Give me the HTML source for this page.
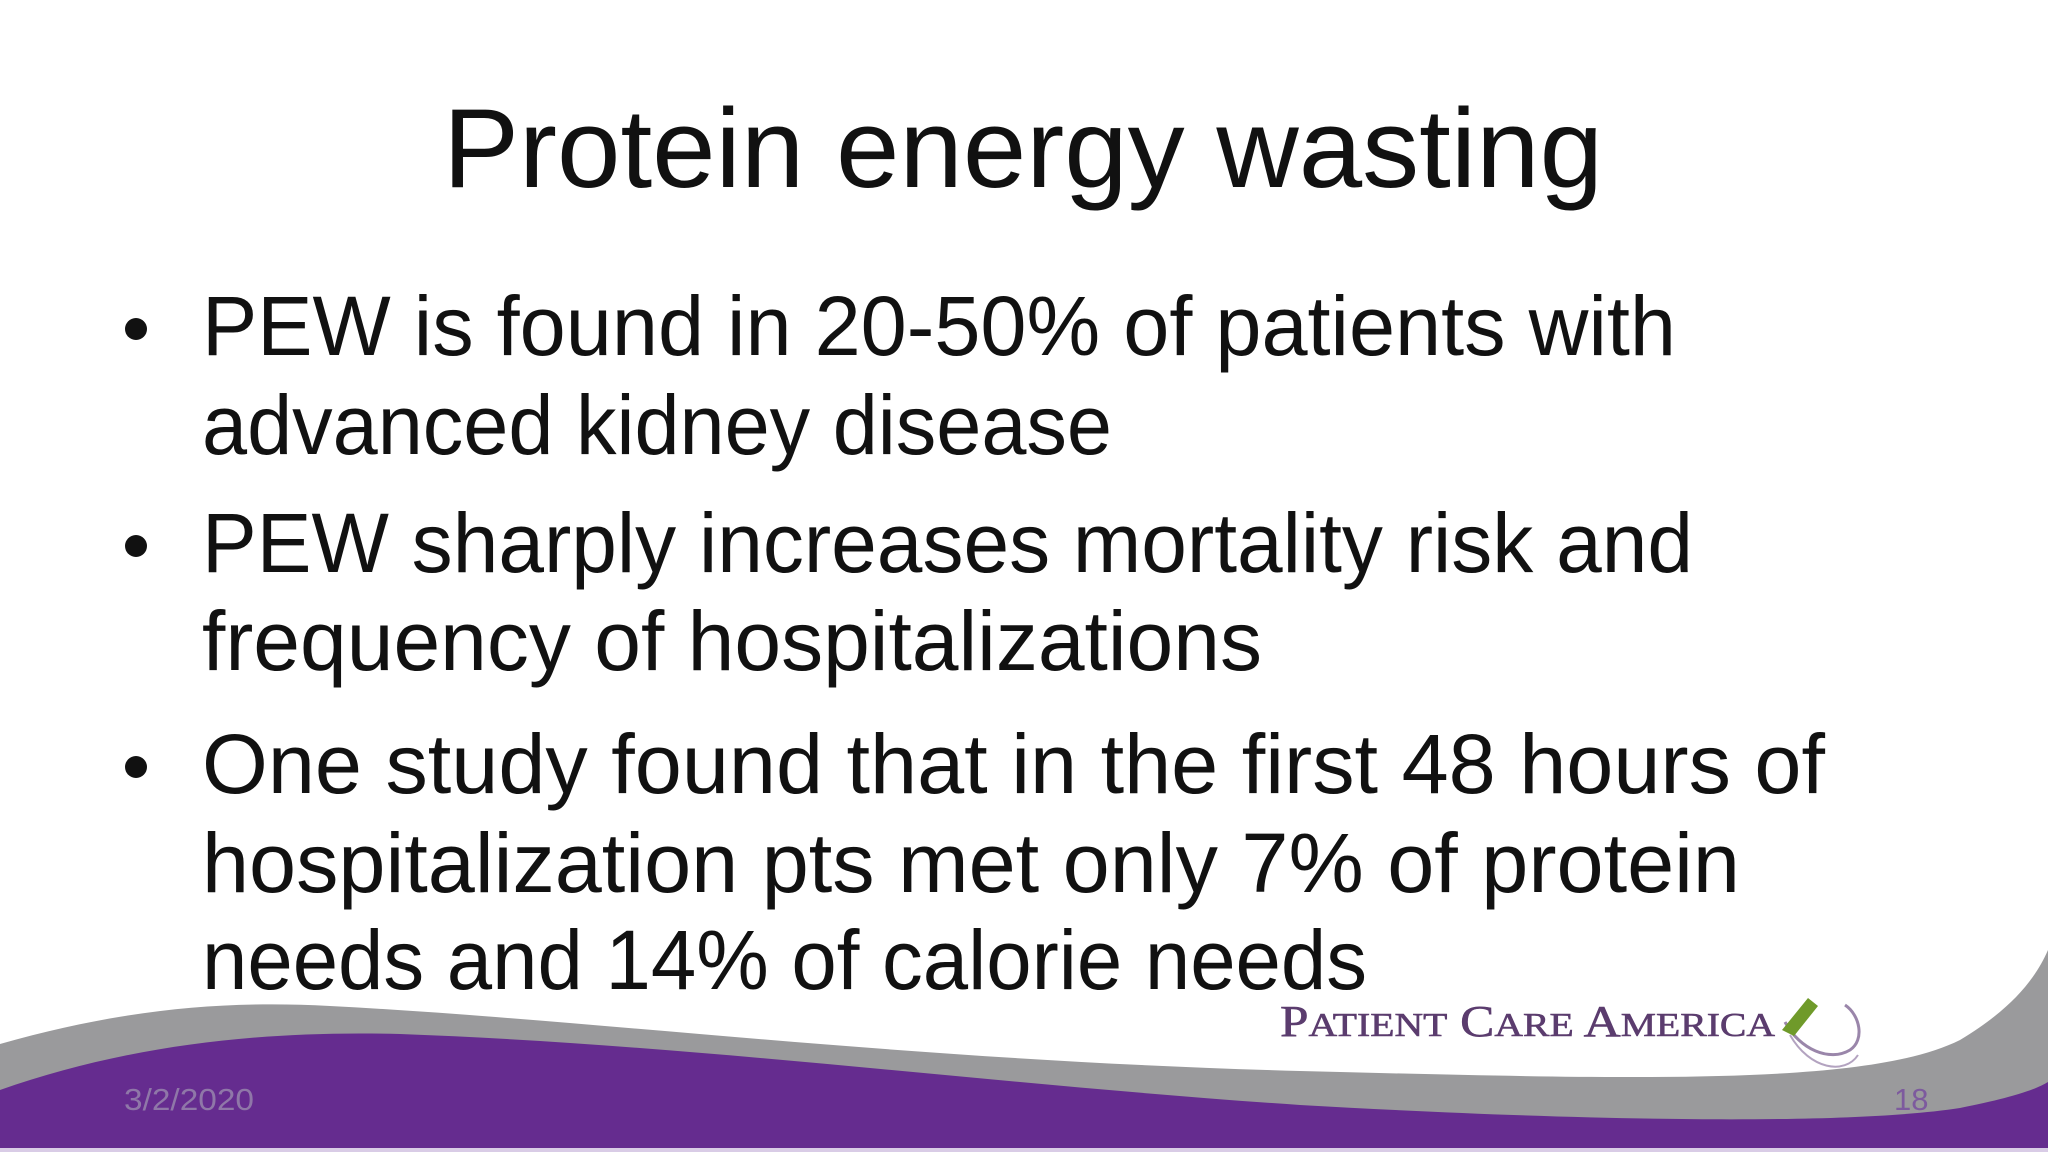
<!DOCTYPE html>
<html><head><meta charset="utf-8"><style>
html,body{margin:0;padding:0;background:#fff;}
svg{display:block;}
</style></head><body>
<svg width="2048" height="1152" viewBox="0 0 2048 1152" xmlns="http://www.w3.org/2000/svg">
<rect width="2048" height="1152" fill="#ffffff"/>
<text x="443" y="187" font-family="Liberation Sans, sans-serif" font-size="112" fill="#111" textLength="1160" lengthAdjust="spacingAndGlyphs">Protein energy wasting</text>
<g font-family="Liberation Sans, sans-serif" font-size="84" fill="#111">
<circle cx="136" cy="329" r="11" fill="#111"/>
<text x="202" y="355" textLength="1474" lengthAdjust="spacingAndGlyphs">PEW is found in 20-50% of patients with</text>
<text x="202" y="454" textLength="910" lengthAdjust="spacingAndGlyphs">advanced kidney disease</text>
<circle cx="136" cy="546" r="11" fill="#111"/>
<text x="202" y="572" textLength="1491" lengthAdjust="spacingAndGlyphs">PEW sharply increases mortality risk and</text>
<text x="202" y="670" textLength="1060" lengthAdjust="spacingAndGlyphs">frequency of hospitalizations</text>
<circle cx="136" cy="767" r="11" fill="#111"/>
<text x="202" y="793" textLength="1623" lengthAdjust="spacingAndGlyphs">One study found that in the first 48 hours of</text>
<text x="202" y="892" textLength="1538" lengthAdjust="spacingAndGlyphs">hospitalization pts met only 7% of protein</text>
<text x="202" y="989" textLength="1165" lengthAdjust="spacingAndGlyphs">needs and 14% of calorie needs</text>
</g>
<path fill="#9a9a9c" d="M0,1044 C120,1010 220,1000 330,1006 C600,1020 900,1060 1300,1071 C1650,1080 1870,1085 1960,1040 C2010,1010 2035,980 2048,950 L2048,1152 L0,1152 Z"/>
<path fill="#652c8f" d="M0,1090 C120,1048 250,1030 400,1034 C700,1045 1000,1085 1300,1105 C1600,1122 1850,1125 1960,1108 C2010,1098 2035,1090 2048,1082 L2048,1148 L0,1148 Z"/>
<rect x="0" y="1148" width="2048" height="4" fill="#d9cce6"/>
<g>
<text x="1280" y="1036" font-family="Liberation Serif, serif" font-size="44" fill="#5b3c6e" stroke="#5b3c6e" stroke-width="0.6" textLength="495" lengthAdjust="spacingAndGlyphs">P<tspan font-size="34">ATIENT</tspan> C<tspan font-size="34">ARE</tspan> A<tspan font-size="34">MERICA</tspan></text>
<path d="M1785,1022 C1800,1050 1830,1062 1850,1050 C1865,1040 1860,1015 1845,1005" fill="none" stroke="#9a86aa" stroke-width="3"/>
<path d="M1790,1035 C1810,1070 1845,1075 1858,1055" fill="none" stroke="#b3a3c0" stroke-width="2"/>
<path d="M1782,1030 L1808,998 L1818,1006 L1794,1036 Z" fill="#6f9a2a"/>
</g>
<text x="124" y="1110" font-family="Liberation Sans, sans-serif" font-size="31" fill="#8f77a8" textLength="130" lengthAdjust="spacingAndGlyphs">3/2/2020</text>
<text x="1894" y="1110" font-family="Liberation Sans, sans-serif" font-size="31" fill="#7d5a9e">18</text>
</svg>
</body></html>
